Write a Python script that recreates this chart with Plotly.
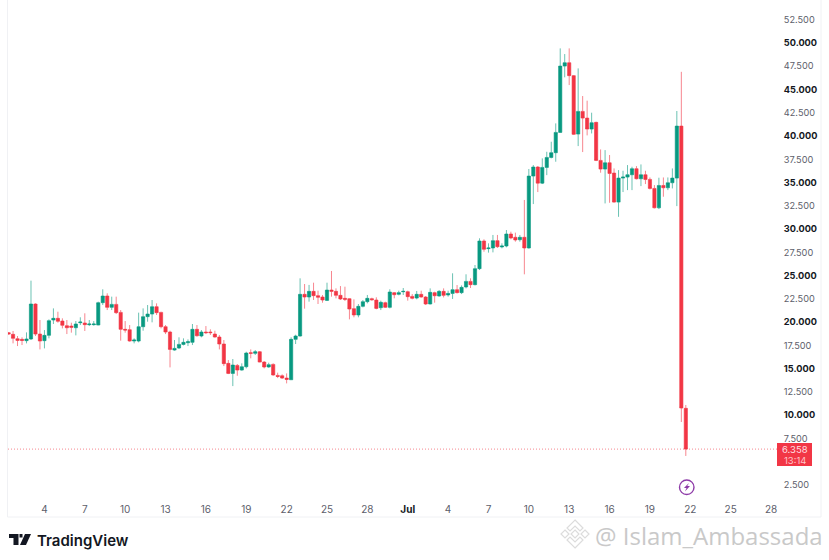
import pandas as pd
import plotly.graph_objects as go

open_ = [18.87,18.69,18.22,18.15,18.01,18.19,21.95,18.72,18.01,18.58,
         20.23,20.41,20.12,19.62,19.58,19.40,19.94,19.91,19.73,19.73,
         19.69,22.09,22.81,21.59,21.91,21.05,19.23,19.19,17.97,17.97,
         19.51,20.59,20.87,21.66,21.05,19.51,18.94,17.00,17.22,17.61,
         17.79,17.83,19.23,18.51,18.94,18.94,18.72,18.40,17.65,15.57,
         14.49,15.35,14.85,15.21,16.72,16.65,16.82,15.71,15.18,15.46,
         14.28,14.24,13.99,13.81,18.15,18.51,22.99,22.70,23.31,22.85,
         22.70,22.34,23.45,23.31,22.88,22.56,22.52,21.45,20.77,21.70,
         22.20,22.52,22.38,21.55,22.09,21.59,23.17,22.99,23.27,23.27,
         22.77,22.59,22.99,22.70,21.95,23.17,22.81,23.31,22.92,23.09,
         23.49,23.17,23.78,24.38,24.03,25.75,28.72,27.90,27.97,28.76,
         28.08,28.18,29.47,29.12,28.86,29.12,27.97,35.70,36.67,34.94,
         36.63,37.70,38.21,40.39,47.52,47.88,46.49,40.21,42.65,41.93,
         40.75,41.47,37.38,36.45,37.13,36.02,32.90,35.48,35.59,35.84,
         36.49,35.41,35.84,35.34,34.37,32.29,34.69,34.44,34.98,35.48,
         41.07,10.74]
high = [18.94,19.05,18.51,18.37,18.90,24.46,22.02,20.23,19.15,20.30,
        21.48,21.12,20.41,20.23,19.94,20.12,20.52,20.95,20.23,20.12,
        22.20,23.53,23.10,22.74,22.74,21.30,20.12,19.69,18.26,21.02,
        21.48,21.84,22.38,22.02,21.12,19.69,19.08,18.08,18.37,18.26,
        18.15,19.80,19.69,19.15,19.58,19.23,19.08,18.62,18.08,15.93,
        16.04,15.50,15.57,16.82,17.07,17.00,16.90,15.82,15.64,15.57,
        14.57,14.39,14.49,18.37,18.65,24.71,24.10,24.00,24.24,23.38,
        22.92,24.24,25.50,23.63,23.88,23.81,22.56,22.45,21.95,22.38,
        22.92,22.63,22.67,22.31,22.20,23.53,23.24,23.38,23.67,23.38,
        23.02,23.35,23.38,22.81,23.63,23.27,23.45,23.63,23.38,25.25,
        23.99,23.95,25.14,24.71,26.14,29.01,28.90,28.47,29.37,29.37,
        28.47,29.90,29.72,29.62,29.37,33.13,36.46,36.88,36.77,37.60,
        38.31,39.39,41.36,49.42,48.81,49.42,46.56,47.27,44.30,43.80,
        42.51,41.54,38.56,38.49,37.96,36.52,36.34,36.27,36.88,36.70,
        36.77,36.95,36.27,35.55,34.73,35.52,35.55,35.55,36.52,42.69,
        46.90,11.10]
low = [18.65,17.72,17.43,17.54,17.72,18.08,18.51,17.07,17.18,18.26,
       19.80,19.94,19.33,18.72,18.87,18.58,19.69,19.05,19.58,19.62,
       19.66,21.84,21.30,21.30,20.87,18.01,18.87,17.90,17.72,17.83,
       19.08,20.05,19.98,20.77,19.33,18.72,15.14,16.93,17.11,17.50,
       17.43,17.54,18.44,18.37,18.72,18.62,18.33,17.07,15.28,14.42,
       13.13,14.24,14.78,15.03,16.11,16.47,15.68,15.03,15.10,14.24,
       13.99,13.89,13.42,13.78,17.65,18.44,21.45,22.20,22.38,21.95,
       22.09,22.27,22.74,22.56,22.38,22.27,20.30,20.52,20.52,21.59,
       22.02,22.31,21.38,21.30,21.52,21.48,22.56,22.88,22.92,22.31,
       22.45,22.45,22.63,21.84,21.91,22.09,22.74,22.66,22.74,22.49,
       23.09,23.02,23.63,23.67,23.95,25.60,27.57,27.47,27.50,27.97,
       27.93,28.04,28.90,28.65,28.65,25.14,27.90,32.69,33.98,34.84,
       35.80,37.60,37.24,40.36,46.31,45.48,40.11,38.92,38.28,40.07,
       40.28,37.31,36.06,32.76,32.83,32.83,31.32,33.98,34.19,34.19,
       35.34,34.62,34.84,34.26,32.22,32.15,33.48,34.19,34.37,32.47,
       9.27,5.62]
close = [18.72,18.26,18.04,18.04,18.19,21.95,18.72,17.97,18.58,20.16,
         20.41,20.09,19.66,19.40,19.44,19.80,20.01,19.73,19.80,19.80,
         22.09,22.81,21.59,21.91,21.02,19.23,19.15,17.97,18.08,19.51,
         20.59,20.87,21.66,21.02,19.51,18.94,17.07,17.18,17.61,17.83,
         17.90,19.23,18.54,18.94,18.87,18.87,18.40,17.65,15.54,14.49,
         15.39,14.85,15.21,16.68,16.65,16.82,15.71,15.18,15.43,14.32,
         14.17,13.99,13.85,18.15,18.51,22.99,22.70,23.31,22.85,22.67,
         22.38,23.45,23.31,22.88,22.49,22.45,21.41,20.77,21.70,22.20,
         22.56,22.41,21.48,22.13,21.59,23.24,22.95,23.17,23.31,22.74,
         22.56,22.99,22.70,21.95,23.20,22.84,23.31,22.88,23.09,23.49,
         23.17,23.74,24.38,24.03,25.75,28.72,27.83,27.97,28.76,28.11,
         28.18,29.47,29.04,28.83,29.12,27.97,35.70,36.67,34.94,36.63,
         37.70,38.21,40.39,47.52,47.88,46.49,40.18,42.65,41.93,40.75,
         41.43,37.38,36.45,37.13,35.98,32.90,35.48,35.59,35.84,36.49,
         35.41,35.84,35.34,34.37,32.29,34.69,34.44,34.98,35.48,41.07,
         10.77,6.358]

# 8h candles
times = pd.date_range("2025-06-01 08:00", periods=len(close), freq="8h")

x_ticks = ["2025-06-04","2025-06-07","2025-06-10","2025-06-13","2025-06-16","2025-06-19","2025-06-22",
           "2025-06-25","2025-06-28","2025-07-01","2025-07-04","2025-07-07","2025-07-10","2025-07-13",
           "2025-07-16","2025-07-19","2025-07-22","2025-07-25","2025-07-28"]
x_labels = ["4","7","10","13","16","19","22","25","28","Jul","4","7","10","13","16","19","22","25","28"]
y_ticks = [2.5,7.5,10,12.5,15,17.5,20,22.5,25,27.5,30,32.5,35,37.5,40,42.5,45,47.5,50,52.5]
y_labels = ["2.500","7.500","10.000","12.500","15.000","17.500","20.000","22.500",
            "25.000","27.500","30.000","32.500","35.000","37.500","40.000",
            "42.500","45.000","47.500","50.000","52.500"]
last_price = 6.358
countdown = "13:14"

GREEN = "#089981"
RED = "#F23645"
DARK = "#131722"
W, H = 829, 560
L, R, T, B = 8, 780, 0, 497


def strong(label):
    return f'<span style="color:{DARK}"><b>{label}</b></span>'


# round 5.000 steps and the month name are bold on the chart
y_text = [strong(t) if v % 5 == 0 else t for v, t in zip(y_ticks, y_labels)]
x_text = [strong(t) if t == "Jul" else t for t in x_labels]


# page pixels to paper coordinates, only for the decorations outside the axes
def px(x):
    return (x - L) / (R - L)


def py(y):
    return 1 - (y - T) / (B - T)


def path(points):
    return "M " + " L ".join(f"{px(a):.4f},{py(b):.4f}" for a, b in points) + " Z"


fig = go.Figure(go.Candlestick(
    x=times, open=open_, high=high, low=low, close=close,
    whiskerwidth=0,
    increasing=dict(line=dict(color="rgba(8,153,129,0.6)", width=1), fillcolor=GREEN),
    decreasing=dict(line=dict(color="rgba(242,54,69,0.6)", width=1), fillcolor=RED),
    showlegend=False,
))

shapes = []
# chart frame
shapes.append(dict(type="rect", xref="paper", yref="paper", x0=px(7.5), x1=px(821), y0=py(517), y1=py(-2),
                   line=dict(color="#f0f1f4", width=1)))
# last price line and tag
shapes.append(dict(type="line", xref="paper", yref="y", x0=0, x1=px(777), y0=last_price, y1=last_price,
                   line=dict(color="rgba(242,54,69,0.6)", width=1, dash="1px,2px")))
shapes.append(dict(type="rect", xref="paper", yref="paper", x0=px(777), x1=px(812), y0=py(466), y1=py(443),
                   fillcolor=RED, line=dict(width=0)))
# lightning marker
shapes.append(dict(type="circle", xref="paper", yref="paper", x0=px(679.5), x1=px(694), y0=py(494.5), y1=py(480),
                   line=dict(color="#8E3BA8", width=1.4), fillcolor="white"))
shapes.append(dict(type="path", xref="paper", yref="paper", line=dict(width=0), fillcolor="#8E3BA8",
                   path=path([(689, 483), (684, 488), (686.5, 488), (685, 491.5), (690, 486), (687.3, 486)])))
# TradingView logo
for pts in ([(9, 534), (18.5, 534), (18.5, 545), (13.5, 545), (13.5, 538), (9, 538)],
            [(19.5, 534), (22.5, 534), (22.5, 537.5), (19.5, 537.5)],
            [(25, 534), (31, 534), (26, 545), (20, 545)]):
    shapes.append(dict(type="path", xref="paper", yref="paper", path=path(pts), fillcolor=DARK, line=dict(width=0)))
# watermark logo
for pts in ([(575, 520), (583, 528), (580, 531), (575, 526), (570, 531), (567, 528)],
            [(575, 548), (583, 540), (580, 537), (575, 542), (570, 537), (567, 540)],
            [(575, 530), (579, 534), (575, 538), (571, 534)],
            [(565, 530), (569, 534), (565, 538), (561, 534)],
            [(585, 530), (589, 534), (585, 538), (581, 534)]):
    shapes.append(dict(type="path", xref="paper", yref="paper", path=path(pts), fillcolor="white",
                       line=dict(color="#dcdcdc", width=1.2)))

annotations = [
    dict(x=px(794.5), y=py(449.5), text=f"{last_price:.3f}", font=dict(color="#ffdfe1", size=9.5)),
    dict(x=px(794.5), y=py(460), text=countdown, font=dict(color="#ffc4c9", size=9.5)),
    dict(x=px(35), y=py(540), xanchor="left", text="TradingView", font=dict(color=DARK, size=15, weight=600)),
    dict(x=px(593), y=py(535), xanchor="left", text="@ Islam_Ambassada", font=dict(color="#c9c9c9", size=24, family="Open Sans")),
]
for a in annotations:
    a.update(xref="paper", yref="paper", showarrow=False, yanchor="middle")
    a.setdefault("xanchor", "center")

fig.update_layout(
    width=W, height=H,
    margin=dict(l=L, r=W - R, t=T, b=H - B, pad=0),
    paper_bgcolor="white", plot_bgcolor="white",
    font=dict(family="Inter, Liberation Sans, sans-serif", color="#5d606b", size=10),
    boxgap=0.28, boxgroupgap=0,
    shapes=shapes, annotations=annotations,
    xaxis=dict(
        type="date", range=["2025-06-01 07:00", "2025-07-28 16:00"],
        rangeslider=dict(visible=False), showgrid=False, zeroline=False, showline=False,
        tickmode="array", tickvals=x_ticks, ticktext=x_text,
        ticks="outside", ticklen=3, tickcolor="rgba(0,0,0,0)", tickangle=0,
    ),
    yaxis=dict(
        side="right", range=[1.21, 54.62], showgrid=False, zeroline=False, showline=False,
        tickmode="array", tickvals=y_ticks, ticktext=y_text, tickfont=dict(size=9.2),
        ticks="outside", ticklen=1, tickcolor="rgba(0,0,0,0)",
    ),
)

fig.write_html("out.html", config=dict(displayModeBar=False),
               post_script="document.body.style.margin='0';document.body.style.overflow='hidden';")
